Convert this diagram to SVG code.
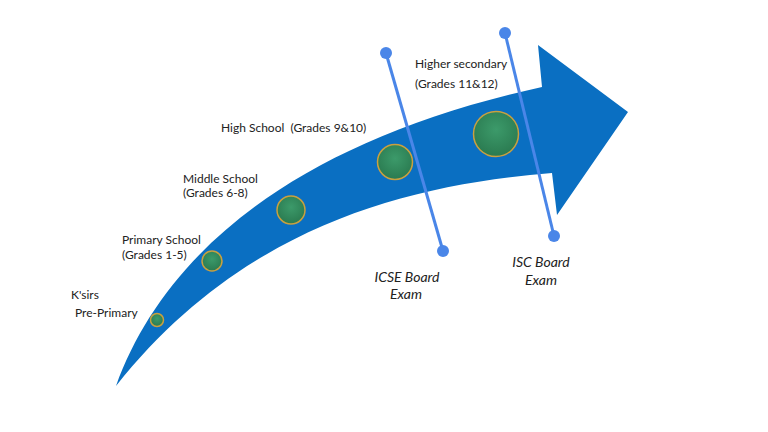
<svg xmlns="http://www.w3.org/2000/svg" width="768" height="432" viewBox="0 0 768 432">
<style>
.lbl{font-family:Lato,"Open Sans","DejaVu Sans",sans-serif;font-size:12px;fill:#222}
.exam{font-family:Lato,"Open Sans","DejaVu Sans",sans-serif;font-size:14px;font-style:italic;fill:#222;text-anchor:middle}
.stage{fill:url(#g);stroke:#c9a040;stroke-width:1.5}
.ln{stroke:#4a86e8;stroke-width:3;fill:none}
.dot{fill:#4a86e8}
</style>
<defs>
<radialGradient id="g" cx="0.5" cy="0.4" r="0.6">
<stop offset="0" stop-color="#3c9a6a"/>
<stop offset="1" stop-color="#2a7a50"/>
</radialGradient>
</defs>
<rect width="768" height="432" fill="#fff"/>
<g id="arrow">
<path d="M116,386 C165,250 300,140 542,87 L538,45 L628,112 L557,215 L552,173 C400,185 240,230 116,386 Z" fill="#0a6fc2"/>
</g>
<g id="kg">
<circle class="stage" cx="157" cy="320" r="6.5"/>
<text class="lbl" x="71" y="299">K'sirs</text>
<text class="lbl" x="75" y="317">Pre-Primary</text>
</g>
<g id="primary">
<circle class="stage" cx="212" cy="261" r="10"/>
<text class="lbl" x="122" y="244">Primary School</text>
<text class="lbl" x="122" y="259">(Grades 1-5)</text>
</g>
<g id="middle">
<circle class="stage" cx="291" cy="210" r="14"/>
<text class="lbl" x="183" y="183">Middle School</text>
<text class="lbl" x="183" y="197">(Grades 6-8)</text>
</g>
<g id="high">
<circle class="stage" cx="395" cy="162" r="17.5"/>
<text class="lbl" x="221" y="132" xml:space="preserve">High School  (Grades 9&amp;10)</text>
</g>
<g id="highersec">
<circle class="stage" cx="496" cy="134" r="22.5"/>
<text class="lbl" x="415" y="68">Higher secondary</text>
<text class="lbl" x="415" y="88">(Grades 11&amp;12)</text>
</g>
<g id="connectors">
<line class="ln" x1="386" y1="53" x2="443" y2="251"/>
<circle class="dot" cx="386" cy="53" r="6"/>
<circle class="dot" cx="443" cy="251" r="6"/>
<line class="ln" x1="505" y1="33" x2="554" y2="236"/>
<circle class="dot" cx="505" cy="33" r="6"/>
<circle class="dot" cx="554" cy="236" r="6"/>
</g>
<g id="icse">
<text class="exam" x="407" y="282">ICSE Board</text>
<text class="exam" x="406" y="299">Exam</text>
</g>
<g id="isc">
<text class="exam" x="541" y="267">ISC Board</text>
<text class="exam" x="541" y="285">Exam</text>
</g>
</svg>
